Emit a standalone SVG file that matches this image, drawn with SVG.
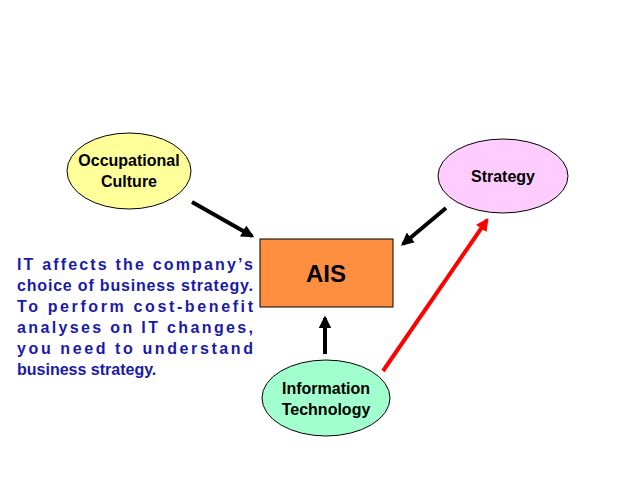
<svg xmlns="http://www.w3.org/2000/svg" width="638" height="478" viewBox="0 0 638 478">
<style>
.n{stroke:#000;stroke-width:1}
.t{font-family:"Liberation Sans",Arial,sans-serif;font-weight:bold;font-size:16px;fill:#000;text-anchor:middle}
.b{font-family:"Liberation Sans",Arial,sans-serif;font-weight:bold;font-size:16px;fill:#1a1aa8}
.a{stroke-width:4;fill:none}
</style>
<defs>
<marker id="k" viewBox="0 0 10 10" refX="8" refY="5" markerWidth="3.2" markerHeight="3.2" orient="auto"><path d="M0,0L10,5L0,10z" fill="#000"/></marker>
<marker id="r" viewBox="0 0 10 10" refX="8" refY="5" markerWidth="3.2" markerHeight="3.2" orient="auto"><path d="M0,0L10,5L0,10z" fill="#f00"/></marker>
</defs>
<rect width="638" height="478" fill="#fff"/>
<g id="occ"><ellipse class="n" cx="129" cy="171" rx="62" ry="38" fill="#ffff99"/><text class="t" x="129" y="166">Occupational</text><text class="t" x="129" y="187">Culture</text></g>
<g id="strategy"><ellipse class="n" cx="503" cy="176" rx="65" ry="37" fill="#ffccff"/><text class="t" x="503" y="182">Strategy</text></g>
<g id="it"><ellipse class="n" cx="326" cy="398" rx="64" ry="38" fill="#a0ffcc"/><text class="t" x="326" y="394">Information</text><text class="t" x="326" y="415">Technology</text></g>
<g id="ais"><rect class="n" x="260" y="239" width="133" height="68" fill="#ff8f40"/><text class="t" x="326" y="282" style="font-size:24px">AIS</text></g>
<g id="connectors">
<line class="a" stroke="#000" x1="192" y1="202" x2="252" y2="236" marker-end="url(#k)"/>
<line class="a" stroke="#000" x1="446" y1="208" x2="403" y2="244" marker-end="url(#k)"/>
<line class="a" stroke="#000" x1="325" y1="354" x2="325" y2="318" marker-end="url(#k)"/>
<line class="a" stroke="#f00" x1="383" y1="371" x2="487" y2="220" marker-end="url(#r)"/>
</g>
<g id="note">
<text class="b" x="17" y="270" textLength="236" lengthAdjust="spacing">IT affects the company’s</text>
<text class="b" x="17" y="291" textLength="236" lengthAdjust="spacing">choice of business strategy.</text>
<text class="b" x="17" y="312" textLength="236" lengthAdjust="spacing">To perform cost-benefit</text>
<text class="b" x="17" y="333" textLength="236" lengthAdjust="spacing">analyses on IT changes,</text>
<text class="b" x="17" y="354" textLength="236" lengthAdjust="spacing">you need to understand</text>
<text class="b" x="17" y="375">business strategy.</text>
</g>
</svg>
